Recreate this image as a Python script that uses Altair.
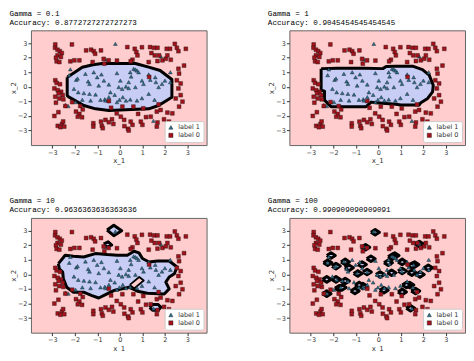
import altair as alt
import pandas as pd

# ---------------- data ----------------
# label 1 (triangles)
tri_x = [-0.2, -0.64, -2.2, 1.49, -1.94, -1.53, -1.41, -1.35, -1.16, -1.01, -0.82, -0.94, -0.71, -0.49,
         -0.42, -0.49, -0.67, -0.86, -1.08, -1.35, -1.6, -1.85, -2.04, -1.3, -1.67, -0.13, 0.02, -0.05,
         0.1, 0.27, 0.39, 0.5, 0.46, 0.61, 0.69, 0.76, 0.83, 0.39, 0.69, 0.98, 1.05, 1.28, 1.35, 1.57,
         1.6, 1.72, 1.87, 2.0, 2.24, 2.24, 1.28, 1.54, 0.98, 0.76, 0.46, 0.27, -0.02, -0.13, -0.64,
         -0.23, 0.13, -1.97, -2.25, -1.88, -2.29, 1.82, -2.42]
tri_y = [2.95, 1.89, 1.2, -2.34, 0.48, 0.89, 0.37, 0.2, 1.0, 0.66, 0.85, 0.09, 0.43, 0.16,
         -0.37, -0.71, -0.85, -0.89, -0.53, -0.48, -0.43, -0.37, -0.14, -0.94, -0.89, 0.94, 0.43, -0.02,
         -0.14, 0.02, -0.09, 0.71, 1.0, 1.24, 1.19, 1.12, 1.0, 0.32, -0.02, 0.43, 0.2, 0.85, 0.48, 0.66,
         0.32, -0.02, 0.2, 0.43, 0.32, 1.0, -0.48, -0.89, -0.78, -0.94, -0.87, -0.94, -0.89, -1.05, -0.94,
         -0.55, -0.71, -1.05, 0.8, 0.57, -1.32, 2.09, -1.25]

# label 0 (squares)
sq_x = [
    # top left
    -2.87, -2.88, -2.77, -2.67, -2.58, -2.77, -2.84, -2.62, -2.81, -2.69, -2.13, -1.5, -1.28, -1.16, -0.84,
    -2.2, -2.02, -1.8, -1.21, -0.69, -0.5, -1.1, -0.72, -0.13,
    # top right
    0.33, 0.66, 0.73, 0.78, 0.56, 0.48, 1.34, 1.52, 1.67, 1.4, 1.55, 1.74, 1.67, 1.89, 2.04, 2.11, 2.08,
    2.23, 2.44, 2.53, 2.6, 2.93, 2.26, 0.98, 1.28,
    # right
    2.63, 2.53, 2.7, 2.6, 2.7, 2.48, 2.78, 2.63, 2.85, 2.6,
    # left
    -2.87, -2.81, -2.66, -2.91, -2.76, -2.61, -2.72, -2.54, -2.87, -2.69, -2.51, -2.84, -2.42, -2.91,
    -2.76, -2.57, -2.64, -2.47, -2.73, -2.52,
    # bottom left
    -1.95, -1.8, -1.87, -1.68, -1.65, -1.76, -1.18, -1.18, -0.84, -0.8, -0.76, -0.35, -0.29, -0.14,
    -2.12, -0.39, -0.64, -0.49,
    # bottom right
    0.11, 0.6, 1.04, 1.64, 1.81, 2.11, 2.33, 0.04, 0.19, 0.48, 0.56, 0.81, 0.93, 1.0, 1.37, 1.67, 1.96,
    2.18, 2.26, 1.64, 0.36, 0.39, 0.2, 2.43, 1.72, 1.16,
    # inside the ellipse
    -0.49, 1.3,
]
sq_y = [
    2.91, 2.68, 2.55, 2.45, 2.32, 2.16, 2.0, 2.05, 1.75, 1.7, 2.91, 2.5, 2.55, 2.45, 2.5,
    1.75, 1.82, 1.82, 1.7, 1.59, 1.82, 2.27, 1.92, 1.8,
    2.73, 2.61, 2.39, 2.16, 1.86, 1.75, 2.73, 2.68, 2.68, 2.32, 2.16, 2.16, 1.77, 1.82, 1.93, 2.16, 2.61,
    2.61, 2.95, 2.68, 2.45, 2.61, 1.86, 2.72, 1.7,
    0.91, 0.45, 0.23, -0.11, -0.57, -0.8, -1.02, -1.36, 1.46, 1.24,
    0.45, 0.27, 0.18, -0.11, -0.23, -0.34, -0.45, -0.57, -0.68, -0.8, -0.86, -1.09, -1.32, -2.0,
    -2.68, -2.55, -2.77, -2.73, -1.74, -2.38,
    -1.7, -1.86, -2.05, -2.09, -1.55, -1.32, -2.5, -2.73, -2.39, -2.68, -2.84, -2.23, -2.55, -1.82,
    -1.05, -1.44, -2.27, -2.43,
    -1.36, -1.36, -1.48, -1.7, -1.59, -1.77, -1.82, -2.05, -2.27, -2.39, -2.61, -1.86, -2.39, -2.61, -2.05,
    -2.45, -2.23, -2.39, -2.61, -2.73, -2.88, -3.0, -2.7, -2.77, -1.21, -2.08,
    -0.98, 0.68,
]

titles_1 = ["Gamma = 0.1", "Gamma = 1", "Gamma = 10", "Gamma = 100"]
titles_2 = ["Accuracy: 0.8772727272727273", "Accuracy: 0.9045454545454545",
            "Accuracy: 0.9636363636363636", "Accuracy: 0.990909090909091"]

# decision regions (class 1 = blue)
p1_x = [-2.34, -2.0, -1.67, -1.2, -0.79, 0.69, 1.28, 1.79, 2.31, 2.31, 1.72, 1.28, -0.49, -1.08, -1.6, -2.26, -2.34]
p1_y = [0.66, 1.0, 1.35, 1.52, 1.6, 1.6, 1.35, 1.12, 0.5, -0.71, -1.28, -1.51, -1.62, -1.51, -1.28, -0.71, -0.6]

p2_x = [-2.54, -1.8, -0.61, 0.2, 0.35, 0.78, 1.52, 1.96, 2.26, 2.44, 2.41, 2.19, 1.89, 1.81, 1.0, 0.78,
        -0.11, -0.32, -0.54, -2.1, -2.39, -2.39, -2.54]
p2_y = [1.25, 1.27, 1.27, 1.25, 1.4, 1.42, 1.42, 1.18, 0.8, 0.11, -0.34, -0.8, -1.09, -1.25, -1.25, -1.2,
        -1.1, -1.05, -1.36, -1.36, -0.91, -0.3, -0.23]

p3_x = [-2.73, -2.43, -2.06, -1.61, -1.09, -0.57, -0.12, 0.33, 0.63, 0.85, 1.0, 1.3, 1.67, 2.19, 2.54, 2.42,
        2.19, 2.04, 2.19, 1.97, 1.22, 0.78, 0.4, 0.1, -0.27, -0.57, -0.94, -1.24, -1.61, -2.06, -2.36, -2.51,
        -2.54, -2.69]
p3_y = [0.74, 1.32, 1.25, 1.2, 1.43, 1.36, 1.32, 1.32, 1.59, 1.48, 1.09, 0.85, 0.92, 0.92, 0.51, 0.05,
        -0.18, -0.53, -0.99, -1.34, -1.29, -1.15, -0.88, -0.99, -1.11, -1.34, -1.62, -1.45, -1.22, -1.22, -0.88, -0.3,
        0.16, 0.39]
# small blue islands in panel 3
i3a_x = [-0.57, -0.27, 0.08, -0.27]
i3a_y = [3.05, 3.38, 3.0, 2.66]
i3b_x = [-0.72, -0.52, -0.36, -0.56]
i3b_y = [2.08, 2.24, 2.02, 1.88]
i3c_x = [1.32, 1.45, 1.7, 1.82, 1.7, 1.45]
i3c_y = [-2.26, -2.06, -2.06, -2.26, -2.46, -2.46]
# pink hole inside the panel 3 region
h3_x = [0.44, 0.64, 1.06, 0.86]
h3_y = [-0.72, -0.96, -0.42, -0.18]

# centres of the little blue islands of panel 4
d4_x = [-0.14, -0.57, 1.82, -2.1, 0.73, 0.62, -0.33, -1.47, -2.25, -1.88, -1.3, -0.72, 0.44, 1.06, 1.61, 1.5,
        2.22, -0.91, -0.5, 0.08, 0.59, 1.06, 1.49, 1.85, -2.29, -1.88, -1.47, -0.69, -0.85, -1.04, -1.74, -1.62,
        -2.29, 1.39, 1.25, 1.06, 0.25, 1.65, 1.43]
d4_y = [2.89, 1.86, 2.09, 1.3, 1.3, 1.22, 1.07, 0.86, 0.8, 0.57, 0.45, 0.68, 0.8, 0.86, 0.68, 0.6,
        0.45, 0.07, 0.16, 0.0, 0.11, 0.23, 0.11, 0.0, -0.34, -0.34, -0.45, -0.8, -0.72, -1.14, -0.95, -0.9,
        -1.32, -0.73, -0.73, -1.2, -1.09, -1.14, -2.32]
d4_r = 0.19

PINK = "#ffcdcd"
BLUE = "#c8cdf6"
TRI = "#2b6f8e"
SQ = "#a3121b"

X_DOM = [-3.95, 3.85]
Y_DOM = [-4.0, 3.88]
TICKS = [-3, -2, -1, 0, 1, 2, 3]


def poly_rows(xs, ys, pid):
    rows = []
    n = len(xs)
    for i in range(n + 1):
        rows.append({"pid": pid, "i": i, "x": xs[i % n], "y": ys[i % n]})
    return rows


blue_polys = [
    [(p1_x, p1_y)],
    [(p2_x, p2_y)],
    [(p3_x, p3_y), (i3a_x, i3a_y), (i3b_x, i3b_y), (i3c_x, i3c_y)],
    [([cx - d4_r, cx, cx + d4_r, cx], [cy, cy + d4_r, cy, cy - d4_r]) for cx, cy in zip(d4_x, d4_y)],
]
pink_polys = [[], [], [(h3_x, h3_y)], []]
stroke_w = [3.0, 3.0, 3.0, 3.0]

pts = pd.DataFrame(
    {"x1": tri_x + sq_x, "x2": tri_y + sq_y,
     "label": ["label 1"] * len(tri_x) + ["label 0"] * len(sq_x)}
)

xax = alt.Axis(values=TICKS, title="x_1", grid=False, domain=False, tickSize=3, tickColor="#333",
               labelFontSize=6.5, labelColor="#333", labelPadding=1, titleFontSize=7,
               titleFontWeight="normal", titleColor="#333", titlePadding=1, labelFont="DejaVu Sans",
               titleFont="DejaVu Sans")
yax = alt.Axis(values=TICKS, title="x_2", grid=False, domain=False, tickSize=3, tickColor="#333",
               labelFontSize=6.5, labelColor="#333", labelPadding=1, titleFontSize=7,
               titleFontWeight="normal", titleColor="#333", titlePadding=1, labelFont="DejaVu Sans",
               titleFont="DejaVu Sans")
xs = alt.Scale(domain=X_DOM, nice=False, zero=False)
ys = alt.Scale(domain=Y_DOM, nice=False, zero=False)


def poly_layer(polys, fill, sw):
    rows = []
    for k, (px, py) in enumerate(polys):
        rows += poly_rows(px, py, k)
    df = pd.DataFrame(rows)
    return alt.Chart(df).mark_line(fill=fill, stroke="black", strokeWidth=sw, strokeJoin="round",
                                   clip=True).encode(
        x=alt.X("x:Q", scale=xs, axis=xax),
        y=alt.Y("y:Q", scale=ys, axis=yax),
        order=alt.Order("i:Q"),
        detail="pid:N",
    )


def panel(k):
    layers = [poly_layer(blue_polys[k], BLUE, stroke_w[k])]
    if pink_polys[k]:
        layers.append(poly_layer(pink_polys[k], PINK, 1.8))
    layers.append(
        alt.Chart(pts).mark_point(filled=True, size=15, opacity=1, stroke="#1a1a1a", strokeWidth=0.4).encode(
            x=alt.X("x1:Q", scale=xs, axis=xax),
            y=alt.Y("x2:Q", scale=ys, axis=yax),
            color=alt.Color("label:N", scale=alt.Scale(domain=["label 1", "label 0"], range=[TRI, SQ]),
                            legend=alt.Legend(title=None, orient="bottom-right", offset=3,
                                              fillColor="white", strokeColor="#cccccc", padding=3,
                                              cornerRadius=2, labelFontSize=6.5, labelColor="#333",
                                              symbolSize=18, symbolStrokeWidth=0.4, rowPadding=1,
                                              labelFont="DejaVu Sans")),
            shape=alt.Shape("label:N", scale=alt.Scale(domain=["label 1", "label 0"],
                                                        range=["triangle-up", "square"])),
        )
    )
    return alt.layer(*layers).properties(
        width=176, height=115,
        title=alt.TitleParams([titles_1[k], titles_2[k]], anchor="start", frame="bounds",
                              font="Liberation Mono", fontSize=7.6, fontWeight="normal",
                              color="black", offset=4, lineHeight=9),
    )


row1 = alt.hconcat(panel(0), panel(1), spacing=59).resolve_scale(color="independent", shape="independent")
row2 = alt.hconcat(panel(2), panel(3), spacing=59).resolve_scale(color="independent", shape="independent")
chart = (
    alt.vconcat(row1, row2, spacing=32)
    .resolve_scale(color="independent", shape="independent")
    .configure_view(fill=PINK, stroke="#666", strokeWidth=1)
    .properties(padding=0)
)
chart.save("out.html", embed_options={"renderer": "svg", "actions": False})
